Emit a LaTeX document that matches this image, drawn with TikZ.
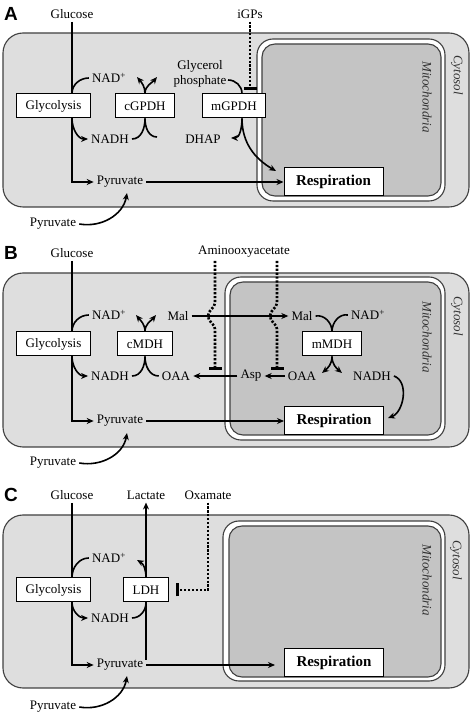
\documentclass[tikz,border=0pt]{standalone}
\usepackage{fontspec}
\setmainfont{Liberation Serif}
\newfontfamily\panelfont{Liberation Sans}
\usetikzlibrary{arrows.meta, calc}

\begin{document}
\begin{tikzpicture}
[x=1pt, y=1pt,
txt/.style={font=\fontsize{13}{15.5}\selectfont, inner sep=3pt},
box/.style={rectangle, draw=black, fill=white, line width=1pt, inner xsep=9pt, minimum height=24pt, font=\fontsize{13}{15.5}\selectfont},
resp/.style={box, inner xsep=12pt, minimum height=28pt, font=\fontsize{15}{18}\selectfont\bfseries},
cyto/.style={draw=black!75, fill=black!13, line width=1.1pt, rounded corners=20pt},
mitout/.style={draw=black!75, fill=white, line width=1.1pt, rounded corners=16pt},
mitin/.style={draw=black!75, fill=black!23, line width=1.1pt, rounded corners=13pt},
side/.style={font=\fontsize{13}{15}\selectfont\itshape, rotate=-90, text=black!80},
panel/.style={font=\panelfont\bfseries\fontsize{19}{20}\selectfont},
flow/.style={line width=1.6pt, -{Stealth[length=7pt,width=6pt]}},
link/.style={line width=1.6pt},
block/.style={line width=2.6pt, dash pattern=on 2.2pt off 1.7pt, -{Bar[width=13pt,line width=3pt]}},
]
\useasboundingbox (0,0) rectangle (474,716);

% panel A
\node[panel] (labA) at (11,702) {A};
\draw[cyto] (3,683) rectangle (469,509);
\draw[mitout] (257,677) rectangle (445,515);
\draw[mitin] (262,672) rectangle (441,520);
\node[side] (cytA) at (457,641) {Cytosol};
\node[side] (mitA) at (427,619) {Mitochondria};
\node[txt] (glcA) at (72,702) {Glucose};
\node[txt] (igpA) at (250,702) {iGPs};
\node[txt] (nadA) at (109,638) {NAD\textsuperscript{+}};
\node[txt] (nadhA) at (110,577) {NADH};
\node[txt, align=center] (g3pA) at (200,642) {Glycerol\\phosphate};
\node[txt] (dhapA) at (203,577) {DHAP};
\node[txt] (pyrA) at (120,534) {Pyruvate};
\node[txt] (pyrxA) at (53,492) {Pyruvate};
\draw[flow] (glcA.south) |- (pyrA.west);
\node[box] (glyA) at (53.5,610) {Glycolysis};
\node[box] (cgpA) at (145,610) {cGPDH};
\node[box] (mgpA) at (234,610) {mGPDH};
\node[resp] (resA) at (333.5,534) {Respiration};

\coordinate (a1) at (glyA.north -| glcA.south);
\coordinate (a2) at (glyA.south -| glcA.south);
\coordinate (a3) at (137,639);
\coordinate (a4) at (157,639);
\coordinate (a5) at (157,579);
\coordinate (a6) at (228,636);
\coordinate (a7) at (231,578);
\coordinate (a8) at (276,545);
\coordinate (a9) at (127,523);
\draw[link] (nadA.west) to[out=180,in=90] (a1);
\draw[flow] (a2) to[out=-90,in=180] (nadhA.west);
\draw[flow] (cgpA.north) to[out=90,in=-50] (a3);
\draw[flow] (cgpA.north) to[out=90,in=-130] (a4);
\draw[link] (nadhA.east) to[out=0,in=-90] (cgpA.south);
\draw[link] (a5) to[out=180,in=-90] (cgpA.south);
\draw[link] (a6) to[out=0,in=90] ([xshift=8pt]mgpA.north);
\draw[flow] ([xshift=8pt]mgpA.south) to[out=-90,in=0] (a7);
\draw[flow] ([xshift=8pt]mgpA.south) to[out=-90,in=150] (a8);
\draw[block, shorten >=3pt] (igpA.south) -- (igpA.south |- mgpA.north);
\draw[flow] (pyrA.east) -- (pyrA.east -| resA.west);
\draw[flow] (pyrxA.east) to[out=-10,in=-100] (a9);

% panel B
\node[panel] (labB) at (11,463) {B};
\draw[cyto] (3,443) rectangle (469,269);
\draw[mitout] (225,439) rectangle (445,276);
\draw[mitin] (230,434) rectangle (441,281);
\node[side] (cytB) at (457,400) {Cytosol};
\node[side] (mitB) at (427,379) {Mitochondria};
\node[txt] (glcB) at (72,463) {Glucose};
\node[txt] (aoaB) at (244,464) {Aminooxyacetate};
\node[txt] (nadB) at (109,401) {NAD\textsuperscript{+}};
\node[txt] (nadhB) at (110,340) {NADH};
\node[txt] (malB) at (178,400) {Mal};
\node[txt] (oaaB) at (176,340) {OAA};
\node[txt] (malmB) at (302,400) {Mal};
\node[txt] (nadmB) at (368,401) {NAD\textsuperscript{+}};
\node[txt] (aspB) at (251,340) {Asp};
\node[txt] (oaamB) at (302,340) {OAA};
\node[txt] (nadhmB) at (372,340) {NADH};
\node[txt] (pyrB) at (120,295) {Pyruvate};
\node[txt] (pyrxB) at (53,253) {Pyruvate};
\draw[flow] (glcB.south) |- (pyrB.west);
\node[box] (glyB) at (53.5,372) {Glycolysis};
\node[box] (cmdB) at (145,372) {cMDH};
\node[box] (mmdB) at (332,372) {mMDH};
\node[resp] (resB) at (334,295) {Respiration};

\coordinate (b1) at (glyB.north -| glcB.south);
\coordinate (b2) at (glyB.south -| glcB.south);
\coordinate (b3) at (136,401);
\coordinate (b4) at (156,401);
\coordinate (b5) at (322,343);
\coordinate (b6) at (342,343);
\coordinate (b7) at (388,298);
\coordinate (b8) at (127,283);
\coordinate (b9) at (215,346);
\coordinate (b10) at (277,346);
\draw[link] (nadB.west) to[out=180,in=90] (b1);
\draw[flow] (b2) to[out=-90,in=180] (nadhB.west);
\draw[flow] (cmdB.north) to[out=90,in=-50] (b3);
\draw[flow] (cmdB.north) to[out=90,in=-130] (b4);
\draw[link] (nadhB.east) to[out=0,in=-90] (cmdB.south);
\draw[link] (oaaB.west) to[out=180,in=-90] (cmdB.south);
\draw[link] (malmB.east) to[out=10,in=90] (mmdB.north);
\draw[link] (nadmB.west) to[out=170,in=90] (mmdB.north);
\draw[flow] (mmdB.south) to[out=-90,in=40] (b5);
\draw[flow] (mmdB.south) to[out=-90,in=140] (b6);
\draw[flow] (nadhmB.east) to[out=-20,in=20] (b7);
\draw[block] (aoaB.south -| b9) -- (215,413) .. controls (215,408) and (208,406) .. (208,400)
  .. controls (208,394) and (215,392) .. (215,387) -- (b9);
\draw[block] (aoaB.south -| b10) -- (277,413) .. controls (277,408) and (270,406) .. (270,400)
  .. controls (270,394) and (277,392) .. (277,387) -- (b10);
\draw[flow] (malB.east) -- (malmB.west);
\draw[flow] (oaamB.west) -- (aspB.east);
\draw[flow] (aspB.west) -- (oaaB.east);
\draw[flow] (pyrB.east) -- (pyrB.east -| resB.west);
\draw[flow] (pyrxB.east) to[out=-10,in=-100] (b8);

% panel C
\node[panel] (labC) at (11,221) {C};
\draw[cyto] (3,201) rectangle (469,28);
\draw[mitout] (223,195) rectangle (445,35);
\draw[mitin] (229,190) rectangle (441,39);
\node[side] (cytC) at (456,156) {Cytosol};
\node[side] (mitC) at (427,136) {Mitochondria};
\node[txt] (glcC) at (72,221) {Glucose};
\node[txt] (lacC) at (146,221) {Lactate};
\node[txt] (oxaC) at (208,221) {Oxamate};
\node[txt] (nadC) at (109,158) {NAD\textsuperscript{+}};
\node[txt] (nadhC) at (110,98) {NADH};
\node[txt] (pyrC) at (120,51) {Pyruvate};
\node[txt] (pyrxC) at (53,9) {Pyruvate};
\coordinate (c1) at (146,56);
\draw[flow] (glcC.south) |- (pyrC.west);
\draw[flow] (c1) -- (c1 |- lacC.south);
\node[box] (glyC) at (53.5,126) {Glycolysis};
\node[box] (ldhC) at (146,126) {LDH};
\node[resp] (resC) at (334,53) {Respiration};

\coordinate (c2) at (glyC.north -| glcC.south);
\coordinate (c3) at (glyC.south -| glcC.south);
\coordinate (c4) at (137,156);
\coordinate (c5) at (127,40);
\draw[link] (nadC.west) to[out=180,in=90] (c2);
\draw[flow] (c3) to[out=-90,in=180] (nadhC.west);
\draw[flow] (ldhC.north) to[out=90,in=-30] (c4);
\draw[link] (nadhC.east) to[out=0,in=-90] (ldhC.south);
\draw[block] (oxaC.south) |- ([xshift=7pt]ldhC.east);
\draw[flow, shorten >=9pt] (pyrC.east) -- (pyrC.east -| resC.west);
\draw[flow] (pyrxC.east) to[out=-10,in=-100] (c5);
\end{tikzpicture}
\end{document}
